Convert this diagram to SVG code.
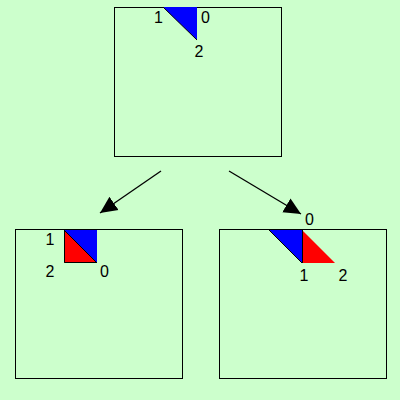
<svg xmlns="http://www.w3.org/2000/svg" width="400" height="400" viewBox="0 0 400 400">
<style>
.box{fill:none;stroke:#000;stroke-width:1}
.blue{fill:#0000ff}
.red{fill:#ff0000}
.edge{stroke:#000;stroke-width:1;fill:none}
.lbl{font-family:"Liberation Sans",Arial,sans-serif;font-size:16px;fill:#000}
.conn{stroke:#000;stroke-width:1.3;fill:none}
</style>
<defs>
<marker id="arrow" markerUnits="userSpaceOnUse" markerWidth="20" markerHeight="20" refX="17" refY="10" orient="auto">
<path d="M0,2 L17,10 L0,18 z" fill="#000"/>
</marker>
</defs>
<rect width="400" height="400" fill="#ccffcc"/>
<g id="node-top">
<rect class="box" x="114.5" y="7.5" width="167" height="149"/>
<polygon class="blue" points="163,7 197,7 197,40"/>
<line class="edge" x1="163" y1="7" x2="197" y2="40"/>
<text class="lbl" x="154" y="23">1</text>
<text class="lbl" x="201" y="23">0</text>
<text class="lbl" x="194.5" y="57">2</text>
</g>
<g id="node-left">
<rect class="box" x="15.5" y="229.5" width="167" height="149"/>
<polygon class="blue" points="64,230 97,230 97,263"/>
<polygon class="red" points="64,230 64,263 97,263"/>
<polyline class="edge" points="64.5,230 64.5,262.5 97,262.5"/>
<line class="edge" x1="64" y1="230" x2="97" y2="263"/>
<text class="lbl" x="45.5" y="244.5">1</text>
<text class="lbl" x="45.5" y="277">2</text>
<text class="lbl" x="100" y="277">0</text>
</g>
<g id="node-right">
<rect class="box" x="219.5" y="229.5" width="167" height="149"/>
<polygon class="blue" points="269,230 302,230 302,263"/>
<polygon class="red" points="302,230 302,263 335,263"/>
<line class="edge" x1="302.5" y1="230" x2="302.5" y2="263"/>
<line class="edge" x1="269" y1="230" x2="302" y2="263"/>
<text class="lbl" x="305" y="225">0</text>
<text class="lbl" x="299.5" y="281">1</text>
<text class="lbl" x="338.5" y="281">2</text>
</g>
<g id="connectors">
<line class="conn" x1="161" y1="171" x2="100" y2="213" marker-end="url(#arrow)"/>
<line class="conn" x1="229" y1="171" x2="301" y2="214" marker-end="url(#arrow)"/>
</g>
</svg>
